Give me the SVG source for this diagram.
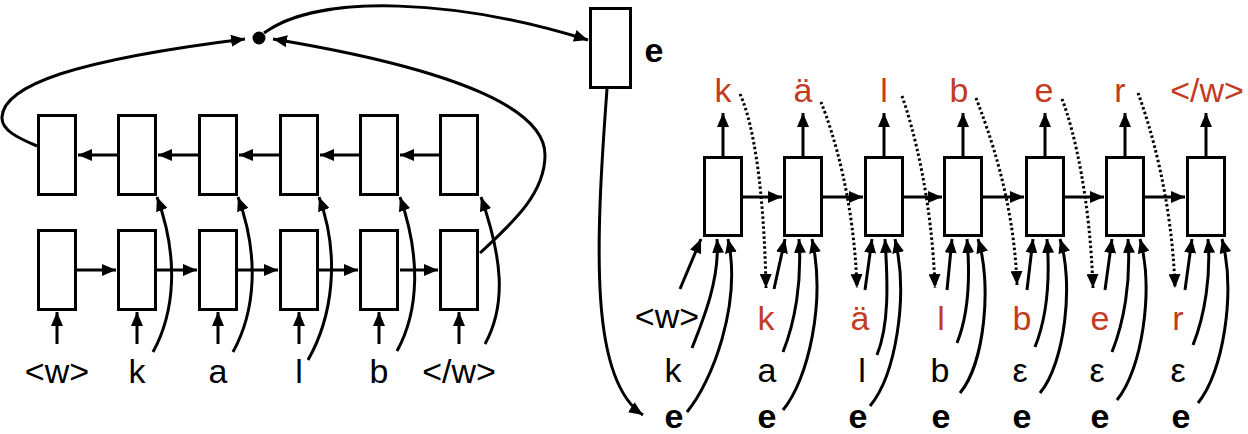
<svg xmlns="http://www.w3.org/2000/svg" width="1248" height="434" viewBox="0 0 1248 434">
<style>
.box{fill:#fff;stroke:#000;stroke-width:3}
.c{fill:none;stroke:#000;stroke-width:3;marker-end:url(#ah)}
.d{fill:none;stroke:#000;stroke-width:3;stroke-dasharray:2.5 2.5;marker-end:url(#ah)}
.t{font-family:"Liberation Sans",Arial,Helvetica,sans-serif;font-size:34px;text-anchor:middle;fill:#000}
.r{fill:#c23b22}
.b{font-weight:bold}
</style>
<defs>
<marker id="ah" markerUnits="userSpaceOnUse" markerWidth="14" markerHeight="12" viewBox="0 0 14 12" refX="14" refY="6" orient="auto">
<path d="M0,0 L14,6 L0,12 z" fill="#000"/>
</marker>
</defs>
<rect width="1248" height="434" fill="#fff"/>

<g id="connectors">
<path class="c" d="M117,155 L78,155"/>
<path class="c" d="M198,155 L158,155"/>
<path class="c" d="M279,155 L239,155"/>
<path class="c" d="M359,155 L320,155"/>
<path class="c" d="M439,155 L400,155"/>
<path class="c" d="M77,270 L116,270"/>
<path class="c" d="M157,270 L197,270"/>
<path class="c" d="M238,270 L278,270"/>
<path class="c" d="M319,270 L358,270"/>
<path class="c" d="M400,270 L438,270"/>
<path class="c" d="M57,344 L57,312"/>
<path class="c" d="M137,344 L137,312"/>
<path class="c" d="M218,344 L218,312"/>
<path class="c" d="M299,344 L299,312"/>
<path class="c" d="M379,344 L379,312"/>
<path class="c" d="M459,344 L459,312"/>
<path class="c" d="M153,352 C175,312 179,257 157,197"/>
<path class="c" d="M233,352 C255,312 260,257 238,197"/>
<path class="c" d="M308,360 C332,318 341,257 319,197"/>
<path class="c" d="M397,351 C419,311 421,257 400,197"/>
<path class="c" d="M485,344 C507,304 502,257 481,197"/>
<path class="c" d="M37,146 C18,138 1,130 2,117 C3,98 30,84 60,74 C110,58 180,47 245,39"/>
<path class="c" d="M480,253 C510,225 545,195 545,155 C545,110 460,70 273,39"/>
<path class="c" d="M264,33 C320,-8 460,0 588,40"/>
<path class="c" d="M607,89 C595,250 590,380 643,415"/>
<path class="c" d="M743,197 L782,197"/>
<path class="c" d="M823,197 L863,197"/>
<path class="c" d="M904,197 L942,197"/>
<path class="c" d="M983,197 L1024,197"/>
<path class="c" d="M1065,197 L1104,197"/>
<path class="c" d="M1145,197 L1185,197"/>
<path class="c" d="M723,156 L723,113"/>
<path class="c" d="M803,156 L803,113"/>
<path class="c" d="M884,156 L884,113"/>
<path class="c" d="M963,156 L963,113"/>
<path class="c" d="M1045,156 L1045,113"/>
<path class="c" d="M1125,156 L1125,113"/>
<path class="c" d="M1206,156 L1206,113"/>
<path class="d" d="M740,94 C754,125 764,190 766,288"/>
<path class="d" d="M821,102 C834,135 854,200 857,288"/>
<path class="d" d="M902,96 C914,130 932,200 935,288"/>
<path class="d" d="M976,98 C989,132 1014,200 1017,285"/>
<path class="d" d="M1062,99 C1075,133 1090,200 1093,288"/>
<path class="d" d="M1138,93 C1151,128 1172,200 1175,288"/>
<path class="c" d="M680,289 L701,239"/>
<path class="c" d="M692,348 C704,318 720,278 717,239"/>
<path class="c" d="M687,412 C712,382 742,304 728,239"/>
<path class="c" d="M774,289 L785,239"/>
<path class="c" d="M783,352 C795,322 802,282 799,239"/>
<path class="c" d="M783,410 C808,380 826,302 812,239"/>
<path class="c" d="M865,290 L872,239"/>
<path class="c" d="M877,355 C889,325 888,285 885,239"/>
<path class="c" d="M870,406 C895,376 909,298 895,239"/>
<path class="c" d="M947,290 L952,239"/>
<path class="c" d="M957,343 C969,313 970,273 967,239"/>
<path class="c" d="M960,393 C985,363 992,283 978,239"/>
<path class="c" d="M1027,290 L1033,239"/>
<path class="c" d="M1035,347 C1047,317 1050,277 1047,239"/>
<path class="c" d="M1040,393 C1065,363 1074,283 1060,239"/>
<path class="c" d="M1105,290 L1112,239"/>
<path class="c" d="M1112,352 C1124,322 1131,282 1128,239"/>
<path class="c" d="M1117,400 C1142,370 1154,290 1140,239"/>
<path class="c" d="M1185,290 L1192,239"/>
<path class="c" d="M1193,345 C1205,315 1211,275 1208,239"/>
<path class="c" d="M1198,403 C1223,373 1236,293 1222,239"/>
</g>

<g id="enc-top">
<rect class="box" x="38.5" y="115.5" width="37" height="79"/>
<rect class="box" x="118.5" y="115.5" width="37" height="79"/>
<rect class="box" x="199.5" y="115.5" width="37" height="79"/>
<rect class="box" x="280.5" y="115.5" width="37" height="79"/>
<rect class="box" x="360.5" y="115.5" width="37" height="79"/>
<rect class="box" x="440.5" y="115.5" width="37" height="79"/>
</g>
<g id="enc-bottom">
<rect class="box" x="38.5" y="230.5" width="37" height="79"/>
<rect class="box" x="118.5" y="230.5" width="37" height="79"/>
<rect class="box" x="199.5" y="230.5" width="37" height="79"/>
<rect class="box" x="280.5" y="230.5" width="37" height="79"/>
<rect class="box" x="360.5" y="230.5" width="37" height="79"/>
<rect class="box" x="440.5" y="230.5" width="37" height="79"/>
</g>
<g id="enc-labels">
<text class="t" x="57" y="383">&lt;w&gt;</text>
<text class="t" x="137" y="383">k</text>
<text class="t" x="218" y="383">a</text>
<text class="t" x="299" y="383">l</text>
<text class="t" x="379" y="383">b</text>
<text class="t" x="459" y="383">&lt;/w&gt;</text>
</g>
<g id="dot"><circle cx="259" cy="38" r="6.5" fill="#000"/></g>
<g id="e-box">
<rect class="box" x="590.5" y="8.5" width="40" height="79"/>
<text class="t b" x="654" y="62">e</text>
</g>

<g id="dec-boxes">
<rect class="box" x="704.5" y="157.5" width="37" height="78"/>
<rect class="box" x="784.5" y="157.5" width="37" height="78"/>
<rect class="box" x="865.5" y="157.5" width="37" height="78"/>
<rect class="box" x="944.5" y="157.5" width="37" height="78"/>
<rect class="box" x="1026.5" y="157.5" width="37" height="78"/>
<rect class="box" x="1106.5" y="157.5" width="37" height="78"/>
<rect class="box" x="1187.5" y="157.5" width="37" height="78"/>
</g>
<g id="dec-outputs">
<text class="t r" x="723" y="102">k</text>
<text class="t r" x="803" y="102">ä</text>
<text class="t r" x="884" y="102">l</text>
<text class="t r" x="959" y="102">b</text>
<text class="t r" x="1044" y="102">e</text>
<text class="t r" x="1120" y="102">r</text>
<text class="t r" x="1207" y="102">&lt;/w&gt;</text>
</g>
<g id="dec-prev">
<text class="t" x="667" y="328">&lt;w&gt;</text>
<text class="t r" x="766" y="330">k</text>
<text class="t r" x="860" y="330">ä</text>
<text class="t r" x="941" y="330">l</text>
<text class="t r" x="1022" y="330">b</text>
<text class="t r" x="1100" y="330">e</text>
<text class="t r" x="1178" y="330">r</text>
</g>
<g id="dec-source">
<text class="t" x="673" y="382">k</text>
<text class="t" x="767" y="382">a</text>
<text class="t" x="862" y="382">l</text>
<text class="t" x="940" y="382">b</text>
<text class="t" x="1020" y="382">ε</text>
<text class="t" x="1097" y="382">ε</text>
<text class="t" x="1178" y="382">ε</text>
</g>
<g id="dec-e">
<text class="t b" x="674" y="428">e</text>
<text class="t b" x="767" y="428">e</text>
<text class="t b" x="858" y="428">e</text>
<text class="t b" x="941" y="428">e</text>
<text class="t b" x="1022" y="428">e</text>
<text class="t b" x="1100" y="428">e</text>
<text class="t b" x="1181" y="428">e</text>
</g>
</svg>
